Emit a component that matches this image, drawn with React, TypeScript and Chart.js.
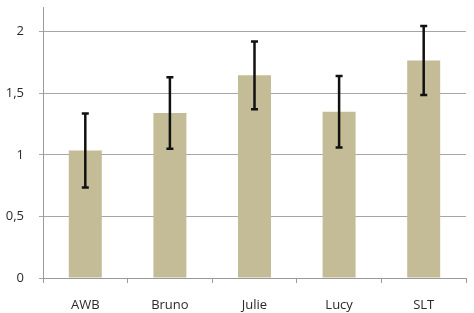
import React, { useEffect, useRef } from "react";
import { Chart, registerables } from "chart.js";

Chart.register(...registerables);

const categories = ["AWB", "Bruno", "Julie", "Lucy", "SLT"];
const means = [1.035, 1.34, 1.645, 1.35, 1.765];
const errors = [0.3, 0.29, 0.275, 0.29, 0.28];
const yTicks = [0, 0.5, 1, 1.5, 2];

const errorBarPlugin = {
  id: "errorBars",
  afterDatasetsDraw(chart: any) {
    const { ctx } = chart;
    const meta = chart.getDatasetMeta(0);
    const y = chart.scales.y;
    ctx.save();
    ctx.strokeStyle = "#111111";
    ctx.lineWidth = 2.5;
    meta.data.forEach((bar: any, i: number) => {
      const x = bar.x;
      const top = y.getPixelForValue(means[i] + errors[i]);
      const bot = y.getPixelForValue(means[i] - errors[i]);
      ctx.beginPath();
      ctx.moveTo(x, top);
      ctx.lineTo(x, bot);
      ctx.moveTo(x - 3.5, top);
      ctx.lineTo(x + 3.5, top);
      ctx.moveTo(x - 3.5, bot);
      ctx.lineTo(x + 3.5, bot);
      ctx.stroke();
    });
    ctx.restore();
  },
};

export default function App() {
  const ref = useRef<HTMLCanvasElement>(null);
  useEffect(() => {
    document.body.style.margin = "0";
    const chart = new Chart(ref.current!, {
      type: "bar",
      data: {
        labels: categories,
        datasets: [
          {
            data: means,
            backgroundColor: "#C4BC96",
            barPercentage: 0.39,
            categoryPercentage: 1,
          },
        ],
      },
      options: {
        animation: false,
        responsive: false,
        events: [],
        layout: { padding: { top: 7, right: 8, left: 0, bottom: 0 } },
        plugins: { legend: { display: false }, tooltip: { enabled: false } },
        scales: {
          x: {
            grid: {
              offset: true,
              drawOnChartArea: false,
              drawTicks: true,
              tickLength: 5,
              color: "#9a9a9a",
            },
            border: { display: true, color: "#9a9a9a", width: 1 },
            ticks: {
              padding: 14,
              color: "#2a2a2a",
              font: { family: "Open Sans", size: 13 },
            },
            afterFit(scale: any) {
              scale.height = 35;
              scale.paddingLeft = 0;
              scale.paddingRight = 0;
            },
          },
          y: {
            min: 0,
            max: 2.2,
            afterBuildTicks(scale: any) {
              scale.ticks = yTicks.map((v) => ({ value: v }));
            },
            grid: {
              color: "#a6a6a6",
              drawTicks: true,
              tickLength: 4,
            },
            border: { display: true, color: "#9a9a9a", width: 1 },
            ticks: {
              padding: 15,
              color: "#2a2a2a",
              font: { family: "Open Sans", size: 13 },
              callback: (v: any) => String(v).replace(".", ","),
            },
            afterFit(scale: any) {
              scale.width = 43;
              scale.paddingTop = 0;
              scale.paddingBottom = 0;
            },
          },
        },
      },
      plugins: [errorBarPlugin],
    });
    return () => chart.destroy();
  }, []);
  return (
    <div style={{ position: "absolute", left: 0, top: 0, width: 474, height: 313 }}>
      <canvas ref={ref} width={474} height={313} />
    </div>
  );
}
